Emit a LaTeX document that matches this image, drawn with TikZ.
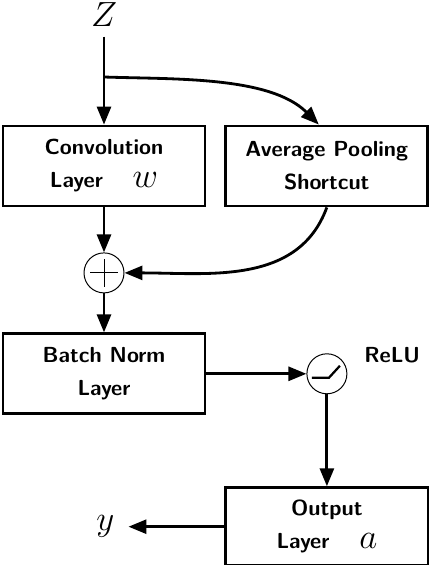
\documentclass[tikz,border=0pt]{standalone}
\usepackage{amsmath}
\usepackage{tikz}
\usetikzlibrary{arrows.meta, positioning}

\newcommand{\bigsym}[1]{{\fontsize{26}{23.5}\selectfont$#1$}}

\begin{document}
\begin{tikzpicture}[
        layer/.style={
            rectangle,
            draw,
            line width=2pt,
            minimum width=5.05cm,
            minimum height=2cm,
            align=center,
            font=\sffamily\bfseries\fontsize{15.5}{23.5}\selectfont
        },
        op/.style={
            circle,
            draw,
            line width=0.7pt,
            minimum size=1cm,
            inner sep=0pt
        },
        var/.style={
            inner sep=0.25cm,
            font=\fontsize{24}{28}\selectfont
        },
        arrow/.style={-{Triangle[length=0.45cm, width=0.35cm]}, line width=2pt}
    ]

    \useasboundingbox (0,0) rectangle (10.725,-14.125);

    \node (conv)   [layer] at (2.6,-4.15) {Convolution\\Layer \quad\bigsym{w}};
    \node (pool)   [layer, right=0.45cm of conv] {Average Pooling\\Shortcut};
    \node (z)      [var, above=2.2cm of conv] {$Z$};
    \node (plus)   [op, below=1.125cm of conv] {};
    \node (batch)  [layer, below=0.975cm of plus] {Batch Norm\\Layer};
    \node (relu)   [op, right=2.5cm of batch] {};
    \node (act)    [right=0.3cm of relu, yshift=0.47cm, font=\sffamily\bfseries\fontsize{15.5}{18}\selectfont] {ReLU};
    \node (output) [layer, below=2.3cm of relu, minimum height=1.95cm] {Output\\Layer \quad\bigsym{a}};
    \node (y)      [var, inner xsep=0.35cm, left=2.4cm of output] {$y$};

    \coordinate (split) at (2.6,-1.925);

    % plus and relu symbols
    \draw [line width=0.7pt] ([xshift=-0.35cm]plus.center) -- ([xshift=0.35cm]plus.center);
    \draw [line width=0.7pt] ([yshift=-0.35cm]plus.center) -- ([yshift=0.35cm]plus.center);
    \draw [line width=1.6pt] ([shift={(-0.375,-0.1)}]relu.center) -- ([shift={(0.05,-0.1)}]relu.center)
        -- ([shift={(0.325,0.2)}]relu.center);

    \draw [arrow] (z) -- (conv);
    \draw [arrow] (split) to[out=-2, in=135, looseness=0.8] ([xshift=-0.2cm]pool.north);
    \draw [arrow] (conv) -- (plus);
    \draw [arrow] (pool.south) to[out=-110, in=0] (plus.east);
    \draw [arrow] (plus) -- (batch);
    \draw [arrow] (batch) -- (relu);
    \draw [arrow] (relu) -- (output);
    \draw [arrow] (output) -- (y);

\end{tikzpicture}
\end{document}
